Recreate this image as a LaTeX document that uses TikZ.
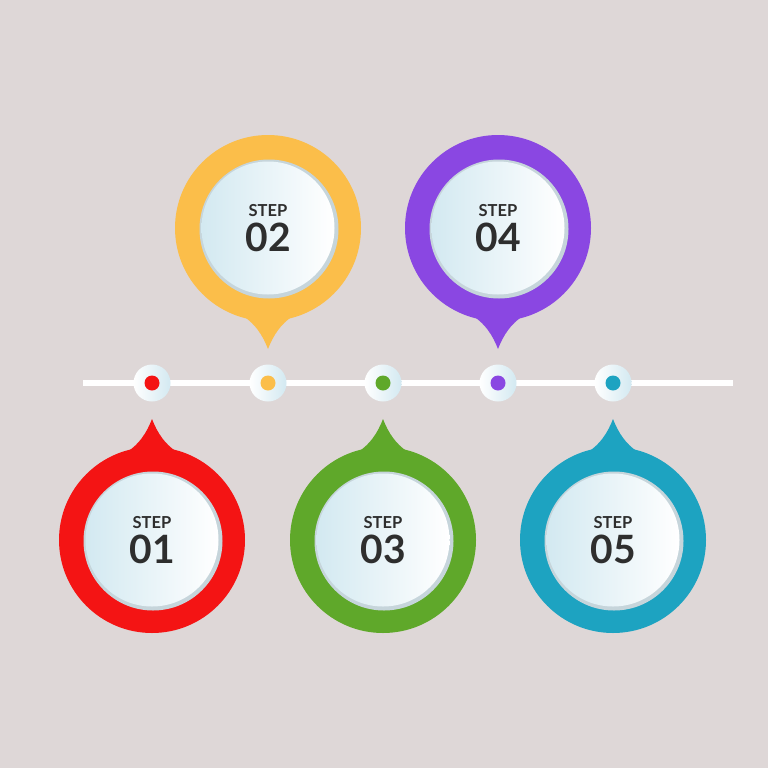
\documentclass[tikz,border=0pt]{standalone}
\usepackage{fontspec}
\setmainfont{Lato}
\definecolor{bgcol}{HTML}{DED7D7}
\definecolor{stepred}{HTML}{F41414}
\definecolor{stepyellow}{HTML}{FBBE4A}
\definecolor{stepgreen}{HTML}{5FA82A}
\definecolor{steppurple}{HTML}{8A47E2}
\definecolor{stepteal}{HTML}{1DA3C1}
\definecolor{facerim}{HTML}{C6D5DB}
\definecolor{faceblue}{HTML}{D3E9F1}
\definecolor{textgray}{HTML}{2E2E2E}
\tikzset{
  pinbody/.style={circle, minimum size=186pt, inner sep=0pt},
  facerimc/.style={circle, minimum size=139pt, inner sep=0pt, fill=facerim},
  face/.style={circle, minimum size=133pt, inner sep=0pt, left color=faceblue, right color=white},
  steplbl/.style={font=\bfseries\fontsize{16.5}{16.5}\selectfont, text=textgray, inner sep=0pt},
  stepnum/.style={font=\bfseries\fontsize{39}{39}\selectfont, text=textgray, inner sep=0pt},
  dotring/.style={circle, minimum size=37pt, inner sep=0pt, left color=white, right color=faceblue},
  dotcore/.style={circle, minimum size=15pt, inner sep=0pt}
}
\begin{document}
\begin{tikzpicture}[x=1pt, y=-1pt]

\fill[bgcol] (0,0) rectangle (768,768);
\useasboundingbox (0,0) rectangle (768,768);

\coordinate (lineL) at (83,383);
\coordinate (lineR) at (733,383);
\draw[white, line width=6pt] (lineL) -- (lineR);

\foreach \n/\x/\y/\d/\c in {
	1/152/540/1/stepred,
	2/268/228/-1/stepyellow,
	3/383/540/1/stepgreen,
	4/498/228/-1/steppurple,
	5/613/540/1/stepteal}
{
\begin{scope}[shift={(\x,\y)}, yscale=\d]
\fill[\c] (-30,-85) .. controls (-13,-94) and (-5,-108) .. (0,-121)
	.. controls (5,-108) and (13,-94) .. (30,-85) -- cycle;
\end{scope}
\node[pinbody, fill=\c] (pin\n) at (\x,\y) {};
\node[facerimc] (rim\n) at ([xshift=1pt, yshift=-1pt]pin\n.center) {};
\node[face] (face\n) at (pin\n) {};
\node[steplbl] (lbl\n) at ([yshift=17pt]pin\n.center) {STEP};
\node[stepnum] (num\n) at ([yshift=-9pt]pin\n.center) {0\n};
\node[dotring] (ring\n) at (\x,383) {};
\node[dotcore, fill=\c] (dot\n) at (ring\n) {};
}

\end{tikzpicture}
\end{document}
